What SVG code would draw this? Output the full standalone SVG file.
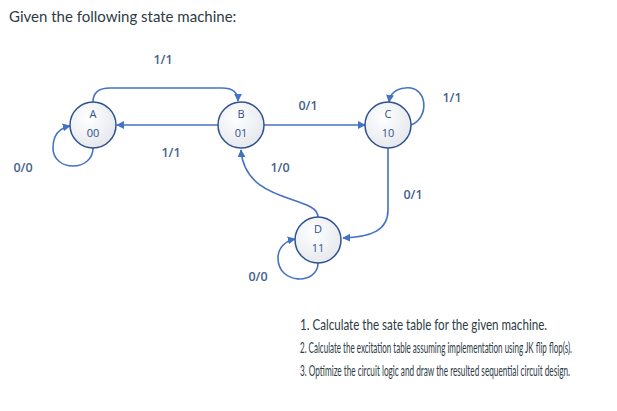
<svg xmlns="http://www.w3.org/2000/svg" width="617" height="411" viewBox="0 0 617 411">
<defs>
<radialGradient id="g" cx="0.4" cy="0.35" r="0.7"><stop offset="0" stop-color="#ffffff"/><stop offset="1" stop-color="#e4e7ec"/></radialGradient>
<marker id="ar" viewBox="0 0 10 10" refX="9" refY="5" markerWidth="8" markerHeight="8" orient="auto" markerUnits="userSpaceOnUse"><path d="M0,0 L10,5 L0,10 z" fill="#4472c4"/></marker>
</defs>
<style>
.n{fill:url(#g);stroke:#2f528f;stroke-width:1.5}
.nt{font-family:"Open Sans","Liberation Sans",sans-serif;font-size:11px;fill:#2f4f8a;text-anchor:middle}
.e{fill:none;stroke:#4472c4;stroke-width:1.6;marker-end:url(#ar)}
.el{font-family:"Open Sans","Liberation Sans",sans-serif;font-size:12.5px;font-weight:600;fill:#44608f;text-anchor:middle}
.t{font-family:Lato,"Liberation Sans",sans-serif;font-size:15px;fill:#2d3b45}
</style>
<rect width="617" height="411" fill="#fff"/>
<text class="t" x="9" y="22">Given the following state machine:</text>
<g id="connectors">
<path class="e" d="M93,102 Q93,88 110,88 L222,88 Q238,88 238,101"/>
<path class="e" d="M218,125 L117,125"/>
<path class="e" d="M264,125 L365,125"/>
<path class="e" d="M411,125 C430,118 428,85 405,88 C395,89 390,95 389,102"/>
<path class="e" d="M93,148 C93,172 53,172 53,148 C53,135 60,128 70,126"/>
<path class="e" d="M318,263 C318,285 278,285 278,258 C278,248 285,241 295,239"/>
<path class="e" d="M318,217 C318,195 245,205 241,150"/>
<path class="e" d="M388,148 L388,210 C388,230 372,237 343,238"/>
</g>
<g id="labels">
<text class="el" x="163" y="64">1/1</text>
<text class="el" x="308" y="110">0/1</text>
<text class="el" x="452" y="102">1/1</text>
<text class="el" x="171" y="157">1/1</text>
<text class="el" x="23" y="172">0/0</text>
<text class="el" x="280" y="172">1/0</text>
<text class="el" x="413" y="199">0/1</text>
<text class="el" x="258" y="281">0/0</text>
</g>
<g id="A"><circle class="n" cx="93" cy="125" r="23"/><text class="nt" x="93" y="118">A</text><text class="nt" x="93" y="137">00</text></g>
<g id="B"><circle class="n" cx="241" cy="125" r="23"/><text class="nt" x="241" y="118">B</text><text class="nt" x="241" y="137">01</text></g>
<g id="C"><circle class="n" cx="388" cy="125" r="23"/><text class="nt" x="388" y="118">C</text><text class="nt" x="388" y="137">10</text></g>
<g id="D"><circle class="n" cx="318" cy="240" r="23"/><text class="nt" x="318" y="233">D</text><text class="nt" x="318" y="252">11</text></g>
<text class="t" x="300" y="330" textLength="247" lengthAdjust="spacingAndGlyphs">1. Calculate the sate table for the given machine.</text>
<text class="t" x="300" y="353" textLength="272" lengthAdjust="spacingAndGlyphs">2. Calculate the excitation table assuming implementation using JK flip flop(s).</text>
<text class="t" x="300" y="376" textLength="270" lengthAdjust="spacingAndGlyphs">3. Optimize the circuit logic and draw the resulted sequential circuit design.</text>
</svg>
